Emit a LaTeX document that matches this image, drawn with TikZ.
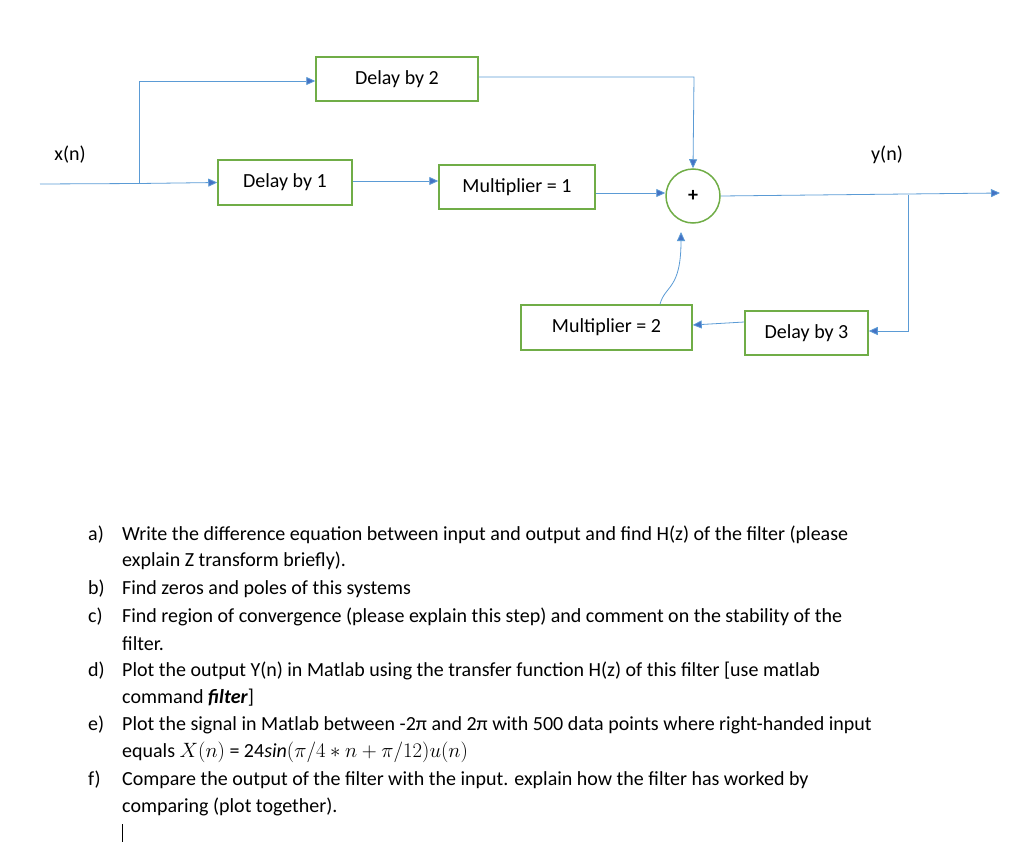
\documentclass[tikz,border=0pt]{standalone}
\usepackage{fontspec}
\setmainfont{Carlito}
\usetikzlibrary{arrows.meta}
\definecolor{ln}{RGB}{91,155,213}
\definecolor{ah}{RGB}{68,114,196}
\definecolor{gb}{RGB}{112,173,71}
\tikzset{
 blk/.style={draw=gb,line width=1.5pt,minimum height=44pt,font=\fontsize{20}{20}\selectfont},
 con/.style={draw=ln,line width=0.8pt,-{Triangle[fill=ah,length=9pt,width=8pt]}},
 pl/.style={draw=ln,line width=0.8pt},
 txt/.style={anchor=west,font=\fontsize{20}{20}\selectfont,inner sep=0pt}
}
\begin{document}
\begin{tikzpicture}[x=1pt,y=-1pt]
\useasboundingbox (0,0) rectangle (1024,843);
\node[blk,minimum width=134pt,minimum height=45pt] (d1) at (285,182.5) {Delay by 1};
\node[blk,minimum width=162pt] (d2) at (397,79) {Delay by 2};
\node[blk,minimum width=156pt] (m1) at (517,187) {Multiplier = 1};
\node[draw=gb,line width=1.5pt,circle,minimum size=54pt,inner sep=0pt,font=\fontsize{20}{20}\selectfont\bfseries] (s) at (693,196) {+};
\node[blk,minimum width=171pt,minimum height=45pt] (m2) at (606.5,327.5) {Multiplier = 2};
\node[blk,minimum width=123pt] (d3) at (806.5,333) {Delay by 3};
\node[font=\fontsize{20}{20}\selectfont] (xn) at (70,155) {x(n)};
\node[font=\fontsize{20}{20}\selectfont] (yn) at (887,155) {y(n)};
\coordinate (in) at (40,184);
\coordinate (br) at (139,183.5);
\coordinate (out) at (1000,193);
\coordinate (tap) at (908,195);
\draw[pl] (in) -- (br);
\draw[con] (br) -- (d1.west);
\draw[con] (br) -- (139,81) -- (d2.west |- 0,81);
\draw[con] (d1.east |- 0,181) -- (m1.west |- 0,181);
\draw[con] (m1.east |- 0,193) -- (s.west |- 0,193);
\draw[con] (d2.east |- 0,77) -- (694,77) -- (s.north);
\draw[con] (s.east) -- (out);
\draw[con] (tap) -- (908,331) -- (d3.east |- 0,331);
\draw[con] (d3.west |- 0,322) -- (m2.east |- 0,325);
\draw[con] (m2.north -| 660,0) .. controls (665,285) and (681,290) .. (681,232);
\foreach \y/\l/\t in {535/a)/{Write the difference equation between input and output and find H(z) of the filter (please},
561//{explain Z transform briefly).},
589/b)/{Find zeros and poles of this systems},
617/c)/{Find region of convergence (please explain this step) and comment on the stability of the},
644//{filter.},
671/d)/{Plot the output Y(n) in Matlab using the transfer function H(z) of this filter [use matlab},
698//{command \textbf{\textit{filter}}]},
725/e)/{Plot the signal in Matlab between -2π and 2π with 500 data points where right-handed input},
752//{equals $X(n)$ = 24$\mathit{sin}(\pi/4 * n + \pi/12)u(n)$},
780/f)/{Compare the output of the filter with the input. explain how the filter has worked by},
807//{comparing (plot together).}}
{\node[txt] at (88,\y) {\l}; \node[txt] at (122,\y) {\t};}
\draw[line width=0.8pt] (122,824) -- (122,842);
\end{tikzpicture}
\end{document}
